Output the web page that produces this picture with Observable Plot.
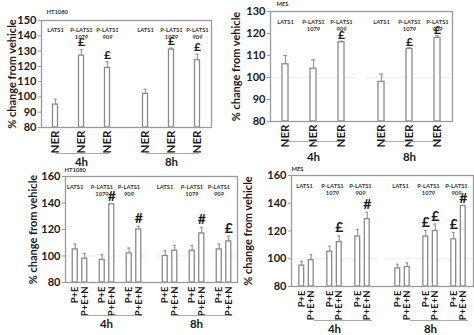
<!DOCTYPE html>
<html><head><meta charset="utf-8">
<script src="https://cdn.jsdelivr.net/npm/d3@7"></script>
<script src="https://cdn.jsdelivr.net/npm/@observablehq/plot@0.6"></script>
<style>
body{margin:0;background:#fff}
#wrap{position:relative;width:474px;height:335px;overflow:hidden;background:#fff}
.panel{position:absolute}
.panel svg{overflow:visible}
g[aria-label="y-axis tick label"] text{font-size:11px}
g[aria-label="y-axis label"] text{font-size:11px}
</style></head><body><div id="wrap"></div>
<script>
// ---- data ----
const times = ["4h", "8h"];
const proteins = ["LATS1", "P-LATS1\n1079", "P-LATS1\n909"];
const nerTreatment = ["NER"];
const penTreatments = ["P+E", "P+E+N"];

const yTicksHtNer = [80, 90, 100, 110, 120, 130, 140, 150];
const yTicksMesNer = [80, 90, 100, 110, 120, 130];
const yTicksPen = [80, 100, 120, 140, 160];

// order: time -> protein (-> treatment)
const htNerValues = [95, 127, 119, 102, 131, 124];
const htNerErrors = [98.5, 131, 123, 105, 132, 128];
const htNerMarks = ["", "£", "£", "", "£", "£"];

const mesNerValues = [106, 104, 116, 98, 113, 118];
const mesNerErrors = [110, 108, 116.5, 101.5, 113.5, 119];
const mesNerMarks = ["", "", "£", "", "£", "£"];

const htPenValues = [105, 98, 97, 139, 102, 120, 100, 104, 104, 117, 105, 111];
const htPenErrors = [109, 102, 101, 139, 106, 122.5, 104, 108, 108, 121.5, 109, 115];
const htPenMarks = ["", "", "", "#", "", "#", "", "", "", "#", "", "£"];

const mesPenValues = [95, 99, 105, 112, 116, 128.5, 93, 94, 116, 120, 114, 138];
const mesPenErrors = [98, 103, 109, 116.5, 121, 133.5, 96, 97, 120.5, 125, 119, 138];
const mesPenMarks = ["", "", "", "£", "", "#", "", "", "£", "£", "£", "#"];

function buildRows(values, errors, marks, trs) {
  const rows = []; let i = 0;
  for (const time of times) for (const protein of proteins) for (const treatment of trs) {
    rows.push({time, protein, treatment, value: values[i], err: errors[i], mark: marks[i]});
    i++;
  }
  return rows;
}

const panels = [
  {title: "HT1080", left: 0, top: 0, width: 237, height: 170,
   mL: 39, mR: 14, mT: 20, mB: 43, yDomain: [80, 150], yTicks: yTicksHtNer,
   fx: {paddingInner: 0.11, paddingOuter: 0.066, align: 0.125},
   rows: buildRows(htNerValues, htNerErrors, htNerMarks, nerTreatment),
   groups: [{name: "NER", dx: 0}], barInset: 10.5, capInset: 11.5,
   labelOffset: 33, titleDx: 5, titleDy: -8, catDy: 6, catDx: 0, markDy: -7, markSize: 12,
   tickDy: 3, tickSize: 11.5, lineDy: 26, lineInL: 14.5, lineInR: 12, groupDy: 35, baseline: false},
  {title: "MES", left: 227, top: 0, width: 247, height: 170,
   mL: 43, mR: 22, mT: 11, mB: 49, yDomain: [80, 130], yTicks: yTicksMesNer,
   fx: {paddingInner: 0.109, paddingOuter: 0, align: 0.5},
   rows: buildRows(mesNerValues, mesNerErrors, mesNerMarks, nerTreatment),
   groups: [{name: "NER", dx: 0}], barInset: 11, capInset: 12,
   labelOffset: 38, titleDx: 6, titleDy: -7, catDy: 7, catDx: 0, markDy: -6, markSize: 12,
   tickDy: 3, tickSize: 11.5, lineDy: 20, lineInL: 18, lineInR: 14.5, groupDy: 36, baseline: true},
  {title: "HT1080", left: 0, top: 165, width: 237, height: 170,
   mL: 59, mR: 0, mT: 11, mB: 53, yDomain: [80, 160], yTicks: yTicksPen,
   fx: {paddingInner: 0.093, paddingOuter: 0.0247, align: 1},
   rows: buildRows(htPenValues, htPenErrors, htPenMarks, penTreatments),
   groups: [{name: "P+E", dx: -4.75}, {name: "P+E+N", dx: 4.75}], barInset: 11, capInset: 12,
   labelOffset: 36, titleDx: -1, titleDy: -6, catDy: 7, catDx: -5, markDy: -8, markSize: 14,
   tickDy: 4, tickSize: 9.5, lineDy: 33, lineInL: 16, lineInR: 8, groupDy: 42, baseline: true},
  {title: "MES", left: 237, top: 165, width: 237, height: 170,
   mL: 50, mR: 1, mT: 10, mB: 49, yDomain: [80, 160], yTicks: yTicksPen,
   fx: {paddingInner: 0.1016, paddingOuter: 0.0195, align: 1},
   rows: buildRows(mesPenValues, mesPenErrors, mesPenMarks, penTreatments),
   groups: [{name: "P+E", dx: -4.75}, {name: "P+E+N", dx: 4.75}], barInset: 11.6, capInset: 12.6,
   labelOffset: 47, titleDx: 0, titleDy: -6, catDy: 7, catDx: -2, markDy: -8, markSize: 14,
   tickDy: 4, tickSize: 9.5, lineDy: 34, lineInL: 23, lineInR: 5, groupDy: 43, baseline: true}
];

const wrap = document.getElementById("wrap");
const cats = times.flatMap(t => proteins.map(p => ({time: t, protein: p})));

for (const cfg of panels) {
  const base = cfg.yDomain[0];
  const marks = [];
  if (cfg.baseline) marks.push(Plot.ruleY([100], {stroke: "#ededed"}));
  for (const g of cfg.groups) {
    const sub = cfg.rows.filter(r => r.treatment === g.name);
    const common = {fx: "time", x: "protein", dx: g.dx};
    marks.push(
      Plot.ruleX(sub, {...common, y1: "value", y2: "err", stroke: "#9a9a9a", strokeWidth: 1.2}),
      Plot.tickY(sub, {...common, y: "err", stroke: "#9a9a9a", strokeWidth: 1.2, insetLeft: cfg.capInset, insetRight: cfg.capInset}),
      Plot.barY(sub, {...common, y1: base, y2: "value", fill: "white", stroke: "#8a8a8a", strokeWidth: 1.3, insetLeft: cfg.barInset, insetRight: cfg.barInset}),
      Plot.text(sub, {...common, y: "err", text: "mark", dy: cfg.markDy, fontSize: cfg.markSize, lineAnchor: "middle", fill: "#1a1a1a"}),
      Plot.text(sub, {...common, text: "treatment", frameAnchor: "bottom", rotate: -90, textAnchor: "end", lineAnchor: "middle", dy: cfg.tickDy, fontSize: cfg.tickSize, fill: "#1a1a1a"})
    );
  }
  marks.push(
    Plot.text(cats, {fx: "time", x: "protein", text: "protein", frameAnchor: "top", lineAnchor: "top", dy: cfg.catDy, dx: cfg.catDx, fontSize: 5.8, lineHeight: 1.25, fill: "#333"}),
    Plot.ruleY(times, {fx: d => d, y: base, dy: cfg.lineDy, insetLeft: cfg.lineInL, insetRight: cfg.lineInR, stroke: "#aaa"}),
    Plot.text(times, {fx: d => d, text: d => d, frameAnchor: "bottom", lineAnchor: "middle", dy: cfg.groupDy, fontSize: 11.5, fill: "#1a1a1a"}),
    Plot.text([cfg.title], {fx: () => times[0], text: d => d, frameAnchor: "top-left", textAnchor: "start", lineAnchor: "middle", dx: cfg.titleDx, dy: cfg.titleDy, fontSize: 5.8, fill: "#333"}),
    Plot.frame({facet: "super", stroke: "#9a9a9a", strokeWidth: 1.3}),
    Plot.axisY({ticks: cfg.yTicks, tickSize: 3, tickPadding: 2, label: "% change from vehicle", labelArrow: "none", labelAnchor: "center", labelOffset: cfg.labelOffset, fill: "#1a1a1a", stroke: "#9a9a9a"})
  );
  const svg = Plot.plot({
    width: cfg.width, height: cfg.height,
    marginLeft: cfg.mL, marginRight: cfg.mR, marginTop: cfg.mT, marginBottom: cfg.mB,
    x: {domain: proteins, axis: null, padding: 0},
    fx: {domain: times, axis: null, ...cfg.fx},
    y: {domain: cfg.yDomain},
    style: {fontFamily: "Lato, sans-serif", fontWeight: "bold", background: "transparent", overflow: "visible"},
    marks
  });
  const div = document.createElement("div");
  div.className = "panel";
  div.style.left = cfg.left + "px";
  div.style.top = cfg.top + "px";
  div.appendChild(svg);
  wrap.appendChild(div);
}
</script>
</body></html>
